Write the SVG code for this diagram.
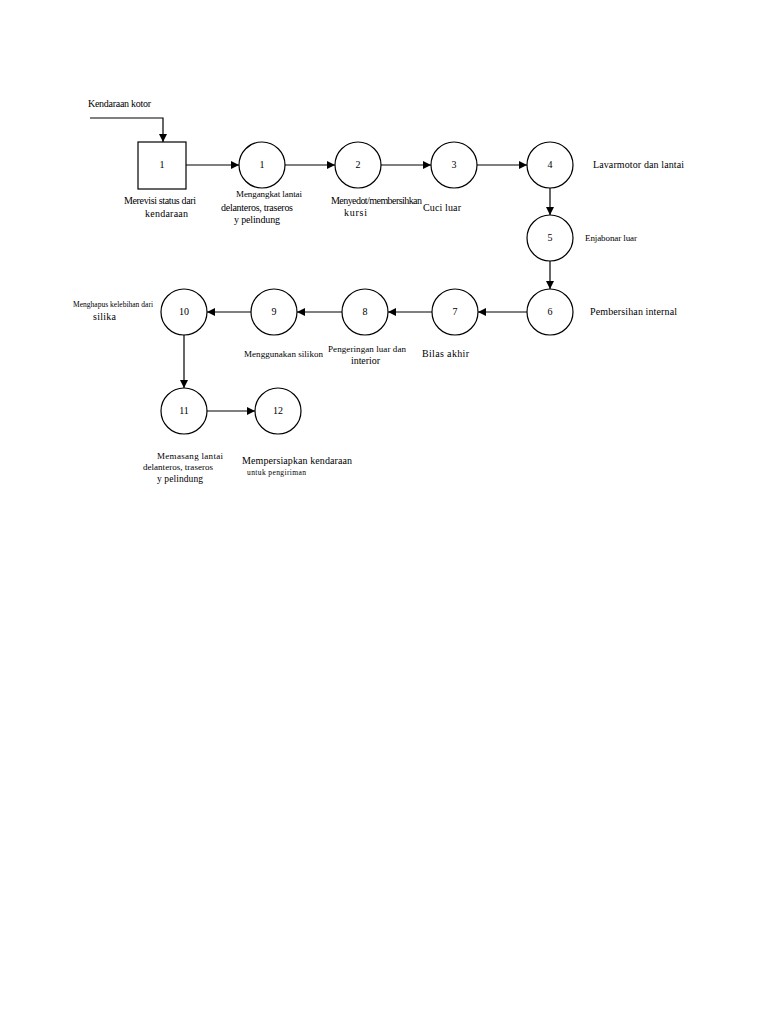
<svg xmlns="http://www.w3.org/2000/svg" width="768" height="1024" viewBox="0 0 768 1024">
<defs>
<marker id="ah" viewBox="0 0 10 10" refX="10" refY="5" markerWidth="8" markerHeight="8" markerUnits="userSpaceOnUse" orient="auto">
<path d="M0,0 L10,5 L0,10 z" fill="#000"/>
</marker>
</defs>
<style>
.n{fill:#fff;stroke:#000;stroke-width:1.2}
.c{fill:none;stroke:#000;stroke-width:1.2}
.t{font-family:"Liberation Serif","Times New Roman",serif;font-size:10px;fill:#000}
.m{text-anchor:middle}
</style>
<rect width="768" height="1024" fill="#fff"/>
<g id="connectors">
<path class="c" d="M90,118 H163 V142" marker-end="url(#ah)"/>
<line class="c" x1="186" y1="165" x2="239" y2="165" marker-end="url(#ah)"/>
<line class="c" x1="285" y1="165" x2="335" y2="165" marker-end="url(#ah)"/>
<line class="c" x1="381" y1="165" x2="431" y2="165" marker-end="url(#ah)"/>
<line class="c" x1="477" y1="165" x2="527" y2="165" marker-end="url(#ah)"/>
<line class="c" x1="550" y1="188" x2="550" y2="215" marker-end="url(#ah)"/>
<line class="c" x1="550" y1="261" x2="550" y2="289" marker-end="url(#ah)"/>
<line class="c" x1="527" y1="312" x2="478" y2="312" marker-end="url(#ah)"/>
<line class="c" x1="432" y1="312" x2="388" y2="312" marker-end="url(#ah)"/>
<line class="c" x1="342" y1="312" x2="297" y2="312" marker-end="url(#ah)"/>
<line class="c" x1="251" y1="312" x2="207" y2="312" marker-end="url(#ah)"/>
<line class="c" x1="184" y1="335" x2="184" y2="388" marker-end="url(#ah)"/>
<line class="c" x1="207" y1="411" x2="255" y2="411" marker-end="url(#ah)"/>
</g>
<g id="input-label"><text class="t" x="88" y="107" textLength="63">Kendaraan kotor</text></g>
<g id="box1">
<rect class="n" x="138" y="142" width="48" height="47"/>
<text class="t m" x="162" y="168">1</text>
<text class="t" x="124" y="204" textLength="72">Merevisi status dari</text>
<text class="t" x="145" y="217" textLength="43">kendaraan</text>
</g>
<g id="p1">
<circle class="n" cx="262" cy="165" r="23"/>
<text class="t m" x="262" y="168">1</text>
<text class="t" x="236" y="197" textLength="66" style="font-size:9px">Mengangkat lantai</text>
<text class="t" x="221" y="211" textLength="72">delanteros, traseros</text>
<text class="t" x="234" y="223" textLength="46">y pelindung</text>
</g>
<g id="p2">
<circle class="n" cx="358" cy="165" r="23"/>
<text class="t m" x="358" y="168">2</text>
<text class="t" x="331" y="204" textLength="91">Menyedot/membersihkan</text>
<text class="t" x="344" y="216" textLength="23">kursi</text>
</g>
<g id="p3">
<circle class="n" cx="454" cy="165" r="23"/>
<text class="t m" x="454" y="168">3</text>
<text class="t" x="423" y="211" textLength="38">Cuci luar</text>
</g>
<g id="p4">
<circle class="n" cx="550" cy="165" r="23"/>
<text class="t m" x="550" y="168">4</text>
<text class="t" x="593" y="168" textLength="91">Lavarmotor dan lantai</text>
</g>
<g id="p5">
<circle class="n" cx="550" cy="238" r="23"/>
<text class="t m" x="550" y="241">5</text>
<text class="t" x="585" y="241" textLength="52" style="font-size:9px">Enjabonar luar</text>
</g>
<g id="p6">
<circle class="n" cx="550" cy="312" r="23"/>
<text class="t m" x="550" y="315">6</text>
<text class="t" x="590" y="315" textLength="87">Pembersihan internal</text>
</g>
<g id="p7">
<circle class="n" cx="455" cy="312" r="23"/>
<text class="t m" x="455" y="315">7</text>
<text class="t" x="422" y="357" textLength="47">Bilas akhir</text>
</g>
<g id="p8">
<circle class="n" cx="365" cy="312" r="23"/>
<text class="t m" x="365" y="315">8</text>
<text class="t" x="328" y="352" textLength="78" style="font-size:9px">Pengeringan luar dan</text>
<text class="t" x="351" y="364" textLength="29">interior</text>
</g>
<g id="p9">
<circle class="n" cx="274" cy="312" r="23"/>
<text class="t m" x="274" y="315">9</text>
<text class="t" x="244" y="357" textLength="79" style="font-size:9px">Menggunakan silikon</text>
</g>
<g id="p10">
<circle class="n" cx="184" cy="312" r="23"/>
<text class="t m" x="184" y="315">10</text>
<text class="t" x="73" y="307" textLength="80" style="font-size:7.5px">Menghapus kelebihan dari</text>
<text class="t" x="93" y="320" textLength="23">silika</text>
</g>
<g id="p11">
<circle class="n" cx="184" cy="411" r="23"/>
<text class="t m" x="184" y="414">11</text>
<text class="t" x="157" y="459" textLength="66" style="font-size:9px">Memasang lantai</text>
<text class="t" x="143" y="470" textLength="70" style="font-size:9px">delanteros, traseros</text>
<text class="t" x="157" y="482" textLength="46" style="font-size:9.5px">y pelindung</text>
</g>
<g id="p12">
<circle class="n" cx="278" cy="411" r="23"/>
<text class="t m" x="278" y="414">12</text>
<text class="t" x="242" y="464" textLength="110">Mempersiapkan kendaraan</text>
<text class="t" x="247" y="475" textLength="59" style="font-size:7.5px">untuk pengiriman</text>
</g>
</svg>
